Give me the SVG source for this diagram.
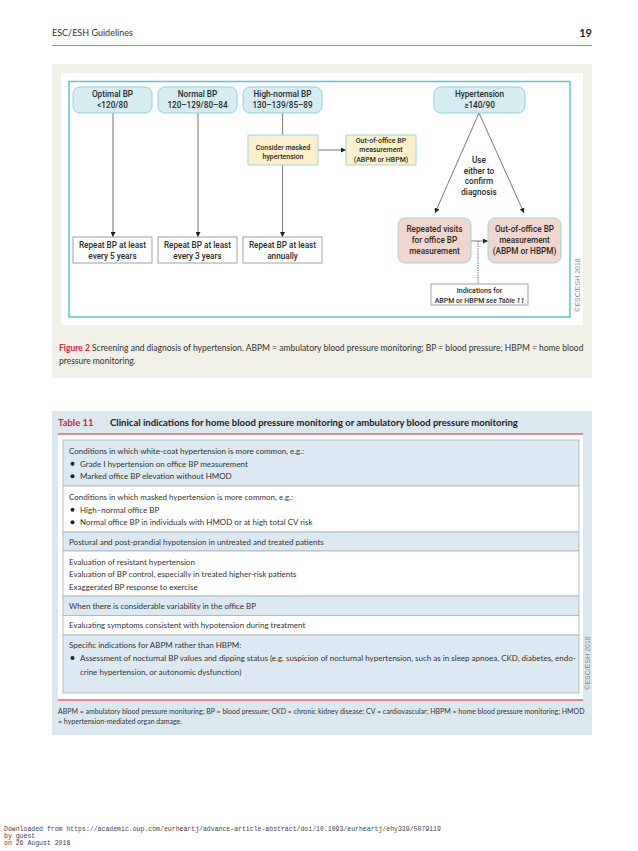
<svg xmlns="http://www.w3.org/2000/svg" width="638" height="851" viewBox="0 0 638 851">
<defs>
<marker id="arr" viewBox="0 0 10 10" refX="10" refY="5" markerWidth="5" markerHeight="5" orient="auto" markerUnits="userSpaceOnUse"><path d="M0,0 L10,5 L0,10 z" fill="#222"/></marker>
</defs>
<style>
.fig{font-family:Roboto,"Liberation Sans",Arial,sans-serif;font-weight:500;font-size:8.2px;fill:#2a2a2a;text-anchor:middle}
.sm{font-size:7px}
.blue{fill:#d5ecf1;stroke:#8fd3dd;stroke-width:1}
.yel{fill:#fbf0c9;stroke:#9fd8df;stroke-width:1}
.pink{fill:#f2d6cd;stroke:#9fd5dc;stroke-width:1}
.rep{fill:#fff;stroke:#a0a0a0;stroke-width:1}
.ln{stroke:#8a8a8a;stroke-width:1.2;fill:none}
.dg{stroke:#555;stroke-width:0.8;fill:none}
.tb{font-family:Lato,"Open Sans",sans-serif;font-size:8px;fill:#333}
.rowb{fill:#dce9f2;stroke:#a9b2b8;stroke-width:0.8}
.roww{fill:#fff;stroke:#a9b2b8;stroke-width:0.8}
.copy{font-family:"Liberation Sans",Arial,sans-serif;font-size:7px;fill:#8a8a8a;text-anchor:middle}
</style>
<rect width="638" height="851" fill="#fff"/>
<!-- header -->
<text x="52" y="36" font-family="Lato,sans-serif" font-size="9" fill="#333">ESC/ESH Guidelines</text>
<text x="592" y="37" font-family="Lato,sans-serif" font-size="11" font-weight="bold" fill="#222" text-anchor="end">19</text>
<line x1="52" y1="45.5" x2="592" y2="45.5" stroke="#e8698a" stroke-width="1"/>
<!-- figure panel -->
<rect x="52" y="64" width="540" height="314" fill="#f1f0e6"/>
<rect x="61" y="73" width="522" height="252" fill="#fff"/>
<rect x="69" y="81.5" width="501" height="235.5" fill="none" stroke="#5cc4d2" stroke-width="1.5"/>
<g id="connectors">
<line class="ln" x1="113" y1="113" x2="113" y2="237" marker-end="url(#arr)"/>
<line class="ln" x1="198" y1="113" x2="198" y2="237" marker-end="url(#arr)"/>
<line class="ln" x1="282.5" y1="113" x2="282.5" y2="237" marker-end="url(#arr)"/>
<line class="ln" x1="318" y1="150" x2="346" y2="150" marker-end="url(#arr)"/>
<line class="dg" x1="479" y1="113" x2="435" y2="213" marker-end="url(#arr)"/>
<line class="dg" x1="479" y1="113" x2="524" y2="213" marker-end="url(#arr)"/>
<line class="dg" x1="471" y1="241" x2="488" y2="241" marker-end="url(#arr)"/>
<line x1="478" y1="241" x2="478" y2="284" stroke="#555" stroke-width="1" stroke-dasharray="1.2,1.2"/>
</g>
<g id="n-optimal"><rect class="blue" x="73" y="87" width="79" height="26" rx="7"/><text class="fig" x="112.5" y="97">Optimal BP</text><text class="fig" x="112.5" y="108">&lt;120/80</text></g>
<g id="n-normal"><rect class="blue" x="158" y="87" width="79" height="26" rx="7"/><text class="fig" x="197.5" y="97">Normal BP</text><text class="fig" x="197.5" y="108">120–129/80–84</text></g>
<g id="n-highnormal"><rect class="blue" x="243" y="87" width="79" height="26" rx="7"/><text class="fig" x="282.5" y="97">High-normal BP</text><text class="fig" x="282.5" y="108">130–139/85–89</text></g>
<g id="n-hypertension"><rect class="blue" x="434" y="87" width="91" height="26" rx="7"/><text class="fig" x="479.5" y="97">Hypertension</text><text class="fig" x="479.5" y="108">≥140/90</text></g>
<g id="n-masked"><rect class="yel" x="248" y="135" width="70" height="30"/><text class="fig sm" x="283" y="149.5">Consider masked</text><text class="fig sm" x="283" y="159">hypertension</text></g>
<g id="n-ooo1"><rect class="yel" x="346" y="135" width="70" height="30"/><text class="fig sm" x="381" y="142.5">Out-of-office BP</text><text class="fig sm" x="381" y="152">measurement</text><text class="fig sm" x="381" y="161.5">(ABPM or HBPM)</text></g>
<g id="t-use"><text class="fig" x="479" y="163">Use</text><text class="fig" x="479" y="173.5">either to</text><text class="fig" x="479" y="184">confirm</text><text class="fig" x="479" y="194.5">diagnosis</text></g>
<g id="n-rep5"><rect class="rep" x="73" y="237" width="79" height="26"/><text class="fig" x="112.5" y="247.5">Repeat BP at least</text><text class="fig" x="112.5" y="258.5">every 5 years</text></g>
<g id="n-rep3"><rect class="rep" x="158" y="237" width="79" height="26"/><text class="fig" x="197.5" y="247.5">Repeat BP at least</text><text class="fig" x="197.5" y="258.5">every 3 years</text></g>
<g id="n-rep1"><rect class="rep" x="243" y="237" width="79" height="26"/><text class="fig" x="282.5" y="247.5">Repeat BP at least</text><text class="fig" x="282.5" y="258.5">annually</text></g>
<g id="n-visits"><rect class="pink" x="398" y="218" width="73" height="45" rx="7"/><text class="fig" x="434.5" y="232">Repeated visits</text><text class="fig" x="434.5" y="243">for office BP</text><text class="fig" x="434.5" y="254">measurement</text></g>
<g id="n-ooo2"><rect class="pink" x="488" y="218" width="73" height="45" rx="7"/><text class="fig" x="524.5" y="232">Out-of-office BP</text><text class="fig" x="524.5" y="243">measurement</text><text class="fig" x="524.5" y="254">(ABPM or HBPM)</text></g>
<g id="n-indications"><rect class="rep" x="431" y="284" width="97" height="21"/><text class="fig sm" x="479.5" y="293">Indications for</text><text class="fig sm" x="479.5" y="302.5">ABPM or HBPM <tspan font-style="italic">see Table 11</tspan></text></g>
<text class="copy" transform="translate(579.5,285) rotate(-90)">©ESC/ESH 2018</text>
<!-- caption -->
<text x="59" y="351" font-family="Lato,sans-serif" font-size="8.5" fill="#333"><tspan font-weight="bold" fill="#d6243f">Figure 2</tspan> Screening and diagnosis of hypertension. ABPM = ambulatory blood pressure monitoring; BP = blood pressure; HBPM = home blood</text>
<text x="59" y="364" font-family="Lato,sans-serif" font-size="8.5" fill="#333">pressure monitoring.</text>
<!-- table -->
<rect x="52" y="411" width="540" height="324" fill="#dbe8ef"/>
<text x="58" y="426" font-family="Lato,sans-serif" font-size="9.5" font-weight="bold" fill="#d6243f">Table 11</text>
<text x="110" y="426" font-family="Lato,sans-serif" font-size="9.5" font-weight="bold" fill="#222">Clinical indications for home blood pressure monitoring or ambulatory blood pressure monitoring</text>
<rect x="58" y="434" width="525" height="266" fill="#fff"/>
<line x1="58" y1="434" x2="583" y2="434" stroke="#d6243f" stroke-width="1.2"/>
<line x1="58" y1="700" x2="583" y2="700" stroke="#d6243f" stroke-width="1.2"/>
<g id="row1"><rect class="rowb" x="63" y="440" width="516" height="46"/>
<text class="tb" x="69" y="454">Conditions in which white-coat hypertension is more common, e.g.:</text>
<circle cx="72.5" cy="463.8" r="2" fill="#222"/><text class="tb" x="80" y="466.5">Grade I hypertension on office BP measurement</text>
<circle cx="72.5" cy="476.3" r="2" fill="#222"/><text class="tb" x="80" y="479">Marked office BP elevation without HMOD</text></g>
<g id="row2"><rect class="roww" x="63" y="486" width="516" height="46"/>
<text class="tb" x="69" y="500">Conditions in which masked hypertension is more common, e.g.:</text>
<circle cx="72.5" cy="509.8" r="2" fill="#222"/><text class="tb" x="80" y="512.5">High–normal office BP</text>
<circle cx="72.5" cy="522.3" r="2" fill="#222"/><text class="tb" x="80" y="525">Normal office BP in individuals with HMOD or at high total CV risk</text></g>
<g id="row3"><rect class="rowb" x="63" y="532" width="516" height="19"/>
<text class="tb" x="69" y="544.5">Postural and post-prandial hypotension in untreated and treated patients</text></g>
<g id="row4"><rect class="roww" x="63" y="551" width="516" height="45"/>
<text class="tb" x="69" y="564.5">Evaluation of resistant hypertension</text>
<text class="tb" x="69" y="577">Evaluation of BP control, especially in treated higher-risk patients</text>
<text class="tb" x="69" y="589.5">Exaggerated BP response to exercise</text></g>
<g id="row5"><rect class="rowb" x="63" y="596" width="516" height="19.5"/>
<text class="tb" x="69" y="608.8">When there is considerable variability in the office BP</text></g>
<g id="row6"><rect class="roww" x="63" y="615.5" width="516" height="19.5"/>
<text class="tb" x="69" y="628.3">Evaluating symptoms consistent with hypotension during treatment</text></g>
<g id="row7"><rect class="rowb" x="63" y="635" width="516" height="58"/>
<text class="tb" x="69" y="648">Specific indications for ABPM rather than HBPM:</text>
<circle cx="72.5" cy="658" r="2" fill="#222"/><text class="tb" x="80" y="661">Assessment of nocturnal BP values and dipping status (e.g. suspicion of nocturnal hypertension, such as in sleep apnoea, CKD, diabetes, endo-</text>
<text class="tb" x="80" y="674.5">crine hypertension, or autonomic dysfunction)</text></g>
<text class="copy" font-size="7.5" transform="translate(590,663) rotate(-90)">©ESC/ESH 2018</text>
<text x="58" y="713.5" font-family="Lato,sans-serif" font-size="7" fill="#333">ABPM = ambulatory blood pressure monitoring; BP = blood pressure; CKD = chronic kidney disease; CV = cardiovascular; HBPM = home blood pressure monitoring; HMOD</text>
<text x="58" y="723.5" font-family="Lato,sans-serif" font-size="7" fill="#333">= hypertension-mediated organ damage.</text>
<!-- download note -->
<g font-family="Liberation Mono,monospace" font-size="6.5" fill="#444">
<text x="4" y="831">Downloaded from https://academic.oup.com/eurheartj/advance-article-abstract/doi/10.1093/eurheartj/ehy339/5079119</text>
<text x="4" y="838">by guest</text>
<text x="4" y="845">on 26 August 2018</text>
</g>
</svg>
